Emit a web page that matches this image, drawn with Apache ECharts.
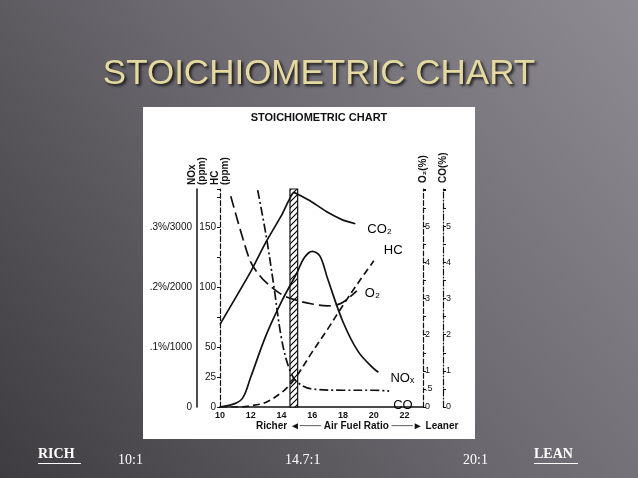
<!DOCTYPE html>
<html><head><meta charset="utf-8">
<script src="https://cdn.jsdelivr.net/npm/echarts@6/dist/echarts.min.js"></script>
<style>html,body{margin:0;padding:0;}#c{width:638px;height:478px;}</style>
</head><body><div id="c"></div>
<script>
// Air/fuel ratio (x) and values on HC(ppm) scale (y)
const co2 = [[10,69],[12,113],[13,138],[14,160],[14.8,179],[15,178],[16,171],[17,162.5],[18,156],[18.8,153]];
const nox = [[10,0],[11,3],[11.5,8],[12,25],[13,60],[14,88],[15,112],[15.5,125],[16,130],[16.5,126],[17,107],[18,71],[19,46],[20,32],[20.3,29]];
const hc = [[10,0],[11,0],[12,1],[13,4],[14,12],[14.5,18],[15,26],[16,46],[17,65],[18,85],[19,104],[20,122]];
const o2 = [[10.7,176],[11.5,140],[12,121],[12.5,111],[13,104],[14,94],[15,89],[16,86],[17,84.5],[17.5,85],[18,87.5],[18.9,97]];
const co = [[12.45,181],[13,143],[13.5,101],[14,57],[14.5,32],[15,21],[16,15],[18,14],[20,14],[21,13.3]];
const hcTicks = [0,25,50,100,150];
const noxTicks = {0:'0',1000:'.1%/1000',2000:'.2%/2000',3000:'.3%/3000'};
const pctTicks = [0,0.5,1,2,3,4,5];
const stoich = [14.55,15.05];

const pc = document.createElement('canvas'); pc.width=6; pc.height=6;
const g = pc.getContext('2d'); g.fillStyle='#fff'; g.fillRect(0,0,6,6);
g.strokeStyle='#000'; g.lineWidth=1.2; g.beginPath(); g.moveTo(0,6); g.lineTo(6,0); g.moveTo(-1,1);g.lineTo(1,-1);g.moveTo(5,7);g.lineTo(7,5); g.stroke();

const chart = echarts.init(document.getElementById('c'));
const lab = (t,dx,dy)=>({show:true,formatter:t,fontSize:13,color:'#000',offset:[dx,dy],fontFamily:'Liberation Sans'});
const ser = (name,data,type,label,sm)=>({type:'line',name,data,smooth:sm===undefined?0.35:sm,symbol:'none',clip:true,
  lineStyle:{color:'#111',width:1.7,type},endLabel:label});
const pctFmt = v=>pctTicks.includes(+v.toFixed(1))?(v===0.5?'.5':String(v)):'';
chart.setOption({
  backgroundColor:{type:'linear',x:1,y:0,x2:0,y2:1,colorStops:[{offset:0,color:'#8e8c92'},{offset:0.5,color:'#6a686e'},{offset:1,color:'#3e3c40'}]},
  title:{text:'STOICHIOMETRIC CHART',left:'center',top:52,textStyle:{color:'#e6d9a0',fontSize:35,fontWeight:'normal',fontFamily:'Liberation Sans',textShadowColor:'rgba(0,0,0,0.8)',textShadowBlur:3,textShadowOffsetX:2,textShadowOffsetY:2}},
  graphic:[
    {type:'rect',z:-10,shape:{x:143,y:107,width:332,height:332},style:{fill:'#fff'}},
    {type:'text',left:'center',top:112,z:5,style:{text:'STOICHIOMETRIC CHART',fontSize:11,fontWeight:'bold',fill:'#111',fontFamily:'Liberation Sans',x:0}},
    {type:'text',left:256,top:421,style:{text:'Richer ◄─── Air Fuel Ratio ───► Leaner',fontSize:10,fontWeight:'bold',fill:'#111',fontFamily:'Liberation Sans'}},
    {type:'text',left:38,top:447,style:{text:'RICH',fontSize:14,fontWeight:'bold',fill:'#fff',fontFamily:'Liberation Serif'}},
    {type:'rect',shape:{x:38,y:463,width:43,height:1},style:{fill:'#fff'}},
    {type:'text',left:534,top:447,style:{text:'LEAN',fontSize:14,fontWeight:'bold',fill:'#fff',fontFamily:'Liberation Serif'}},
    {type:'rect',shape:{x:534,y:463,width:44,height:1},style:{fill:'#fff'}},
    {type:'text',left:118,top:453,style:{text:'10:1',fontSize:14,fill:'#fff',fontFamily:'Liberation Serif'}},
    {type:'text',left:285,top:453,style:{text:'14.7:1',fontSize:14,fill:'#fff',fontFamily:'Liberation Serif'}},
    {type:'text',left:463,top:453,style:{text:'20:1',fontSize:14,fill:'#fff',fontFamily:'Liberation Serif'}}
  ],
  grid:{left:220,right:215,top:189,bottom:71},
  xAxis:{type:'value',min:10,max:23.2,interval:2,
    axisLine:{lineStyle:{color:'#111',width:1.5}},axisTick:{show:false},splitLine:{show:false},
    axisLabel:{color:'#111',fontSize:9,fontWeight:'bold',showMaxLabel:false,margin:4}},
  yAxis:[
    {type:'value',min:0,max:182,interval:25,position:'left',name:'HC\n(ppm)',nameLocation:'end',nameRotate:90,nameGap:4,
      nameTextStyle:{color:'#111',fontSize:10,fontWeight:'bold',align:'left',verticalAlign:'middle'},
      axisLine:{show:true,lineStyle:{color:'#111',type:'dashed',width:1.2}},axisTick:{show:true,inside:false,length:3,lineStyle:{color:'#111'}},
      splitLine:{show:false},axisLabel:{color:'#111',fontSize:10,margin:4,formatter:v=>hcTicks.includes(v)?String(v):''}},
    {type:'value',min:0,max:3640,interval:1000,position:'left',offset:23,name:'NOx\n(ppm)',nameLocation:'end',nameRotate:90,nameGap:4,
      nameTextStyle:{color:'#111',fontSize:10,fontWeight:'bold',align:'left',verticalAlign:'middle'},
      axisLine:{show:true,lineStyle:{color:'#111',width:1.5}},axisTick:{show:false},splitLine:{show:false},
      axisLabel:{color:'#111',fontSize:10,margin:5,formatter:v=>noxTicks[v]||''}},
    {type:'value',min:0,max:6.03,interval:0.5,position:'right',offset:0,name:'O₂(%)',nameLocation:'end',nameRotate:90,nameGap:6,
      nameTextStyle:{color:'#111',fontSize:10,fontWeight:'bold',align:'left',verticalAlign:'middle'},
      axisLine:{show:true,lineStyle:{color:'#111',type:'dashed',width:1.2}},axisTick:{show:true,length:3,lineStyle:{color:'#111'}},splitLine:{show:false},
      axisLabel:{color:'#111',fontSize:9,margin:2,formatter:pctFmt}},
    {type:'value',min:0,max:6.03,interval:0.5,position:'right',offset:20,name:'CO(%)',nameLocation:'end',nameRotate:90,nameGap:6,
      nameTextStyle:{color:'#111',fontSize:10,fontWeight:'bold',align:'left',verticalAlign:'middle'},
      axisLine:{show:true,lineStyle:{color:'#111',type:[6,2,1,2],width:1.2}},axisTick:{show:true,length:3,lineStyle:{color:'#111'}},splitLine:{show:false},
      axisLabel:{color:'#111',fontSize:9,margin:3,formatter:v=>(v===0.5)?'':pctFmt(v)}}
  ],
  series:[
    Object.assign(ser('CO2',co2,'solid',lab('CO₂',4,6),0.15),{markArea:{silent:true,
      itemStyle:{color:{image:pc,repeat:'repeat'},borderColor:'#111',borderWidth:1.2},
      label:{show:false},
      data:[[{xAxis:stoich[0],yAxis:0},{xAxis:stoich[1],yAxis:182}]]}}),
    ser('NOx',nox,'solid',lab('NOₓ',4,6)),
    ser('HC',hc,[7,4],lab('HC',2,-10)),
    ser('O2',o2,[12,5],lab('O₂',0,3)),
    ser('CO',co,[9,3,2,3],lab('CO',-4,14))
  ]
});
</script></body></html>
